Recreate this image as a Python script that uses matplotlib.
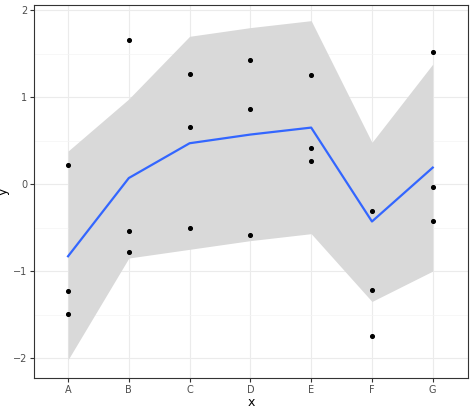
import matplotlib.pyplot as plt
import numpy as np

cats = ["A", "B", "C", "D", "E", "F", "G"]
pts = {
    "A": [0.22, -1.23, -1.49],
    "B": [1.66, -0.54, -0.78],
    "C": [1.27, 0.66, -0.51],
    "D": [1.43, 0.86, -0.58],
    "E": [1.25, 0.42, 0.27],
    "F": [-0.31, -1.22, -1.75],
    "G": [1.52, -0.03, -0.42],
}
mean_y = [-0.83, 0.07, 0.47, 0.57, 0.65, -0.43, 0.19]
upper = [0.38, 0.98, 1.70, 1.80, 1.88, 0.48, 1.38]
lower = [-2.02, -0.85, -0.75, -0.65, -0.57, -1.35, -1.00]

fig = plt.figure(figsize=(4.74, 4.09), dpi=100)
ax = fig.add_axes([34/474, 31/409, 434/474, 373/409])
x = np.arange(len(cats))

ax.fill_between(x, lower, upper, color="#d9d9d9", lw=0, zorder=1)
ax.plot(x, mean_y, color="#3366ff", lw=1.6, zorder=3)
for i, c in enumerate(cats):
    ax.scatter([i]*len(pts[c]), pts[c], s=7, color="black", zorder=4)

ax.set_xticks(x)
ax.set_xticklabels(cats)
ax.set_yticks([-2, -1, 0, 1, 2])
ax.set_yticks([-1.5, -0.5, 0.5, 1.5], minor=True)
ax.set_xlim(-0.56, 6.58)
ax.set_ylim(-2.23, 2.06)
ax.grid(True, which="major", color="#ebebeb", lw=0.8, zorder=0)
ax.grid(True, which="minor", axis="y", color="#f4f4f4", lw=0.5, zorder=0)
ax.set_axisbelow(True)
for s in ax.spines.values():
    s.set_color("#333333")
    s.set_linewidth(0.8)
ax.tick_params(which="major", length=3, color="#333333", labelsize=7, labelcolor="#4d4d4d", pad=2)
ax.tick_params(which="minor", length=0)
ax.set_xlabel("x", fontsize=9, labelpad=1)
ax.set_ylabel("y", fontsize=9, labelpad=2)

plt.savefig("out.png", dpi=100)
